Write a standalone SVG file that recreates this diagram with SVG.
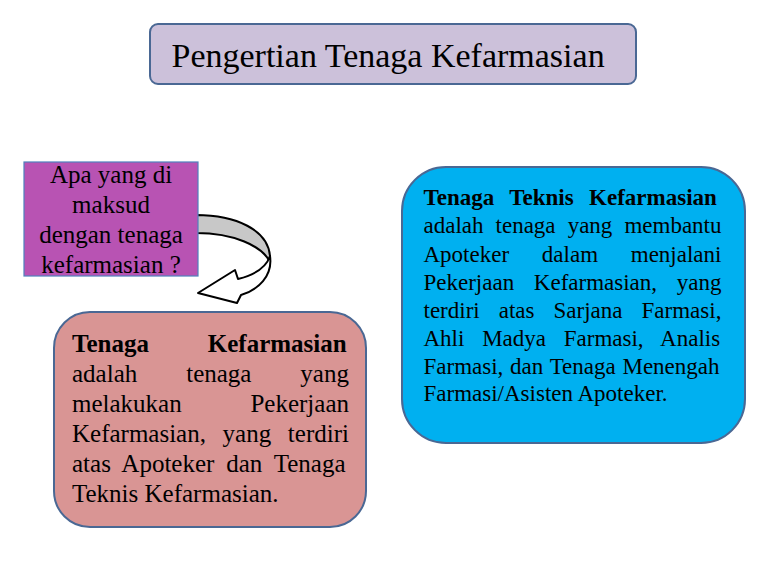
<svg xmlns="http://www.w3.org/2000/svg" width="768" height="576" viewBox="0 0 768 576">
<style>
.t{font-size:34px}
.q{font-size:25px;text-anchor:middle}
.p{font-size:25px}
.b{font-size:23px}
.bold{font-weight:bold}
.box{stroke:#4a6894;stroke-width:2}
</style>
<rect width="768" height="576" fill="#fff"/>
<g font-family="'Liberation Serif', 'Times New Roman', Times, serif" fill="#000">
<g id="title">
<rect class="box" x="150" y="24" width="486" height="60" rx="8" fill="#ccc1da"/>
<text class="t" x="171.5" y="66.5">Pengertian Tenaga Kefarmasian</text>
</g>
<g id="connectors">
<path d="M196,215 C236,215 268,230 270,256 L270,262 C262,246 234,233 196,233 Z" fill="#c8c8c8" stroke="#000" stroke-width="2" stroke-linejoin="round"/>
<path d="M270,256 C273,276 258,290 241,295 L237,303 L198,293 L235,270 L238,279 C254,275 266,268 270,256 Z" fill="#fff" stroke="#000" stroke-width="2" stroke-linejoin="round"/>
</g>
<g id="question">
<rect x="24" y="162" width="174" height="114" fill="#b853b3" stroke="#4f81bd" stroke-width="1.2"/>
<text class="q" x="111" y="183">Apa yang di</text>
<text class="q" x="111" y="213">maksud</text>
<text class="q" x="111" y="243">dengan tenaga</text>
<text class="q" x="111" y="273">kefarmasian ?</text>
</g>
<g id="tenaga-kefarmasian">
<rect class="box" x="54" y="312" width="312" height="215" rx="36" fill="#d99594"/>
<text class="p bold" x="72" y="352" word-spacing="52.7">Tenaga Kefarmasian</text>
<text class="p" x="72" y="382" word-spacing="42.7">adalah tenaga yang</text>
<text class="p" x="72" y="412" word-spacing="62.5">melakukan Pekerjaan</text>
<text class="p" x="72" y="442" word-spacing="10.4">Kefarmasian, yang terdiri</text>
<text class="p" x="72" y="472" word-spacing="5.6">atas Apoteker dan Tenaga</text>
<text class="p" x="72" y="502">Teknis Kefarmasian.</text>
</g>
<g id="tenaga-teknis">
<rect class="box" x="402" y="167" width="343" height="276" rx="44" fill="#00b0f0"/>
<text class="b bold" x="423.5" y="205" word-spacing="9.7">Tenaga Teknis Kefarmasian</text>
<text class="b" x="423.5" y="233" word-spacing="6.3">adalah tenaga yang membantu</text>
<text class="b" x="423.5" y="261.5" word-spacing="27">Apoteker dalam menjalani</text>
<text class="b" x="423.5" y="290" word-spacing="13.9">Pekerjaan Kefarmasian, yang</text>
<text class="b" x="423.5" y="318" word-spacing="13.3">terdiri atas Sarjana Farmasi,</text>
<text class="b" x="423.5" y="346" word-spacing="12">Ahli Madya Farmasi, Analis</text>
<text class="b" x="423.5" y="373.5" word-spacing="1">Farmasi, dan Tenaga Menengah</text>
<text class="b" x="423.5" y="401">Farmasi/Asisten Apoteker.</text>
</g>
</g>
</svg>
